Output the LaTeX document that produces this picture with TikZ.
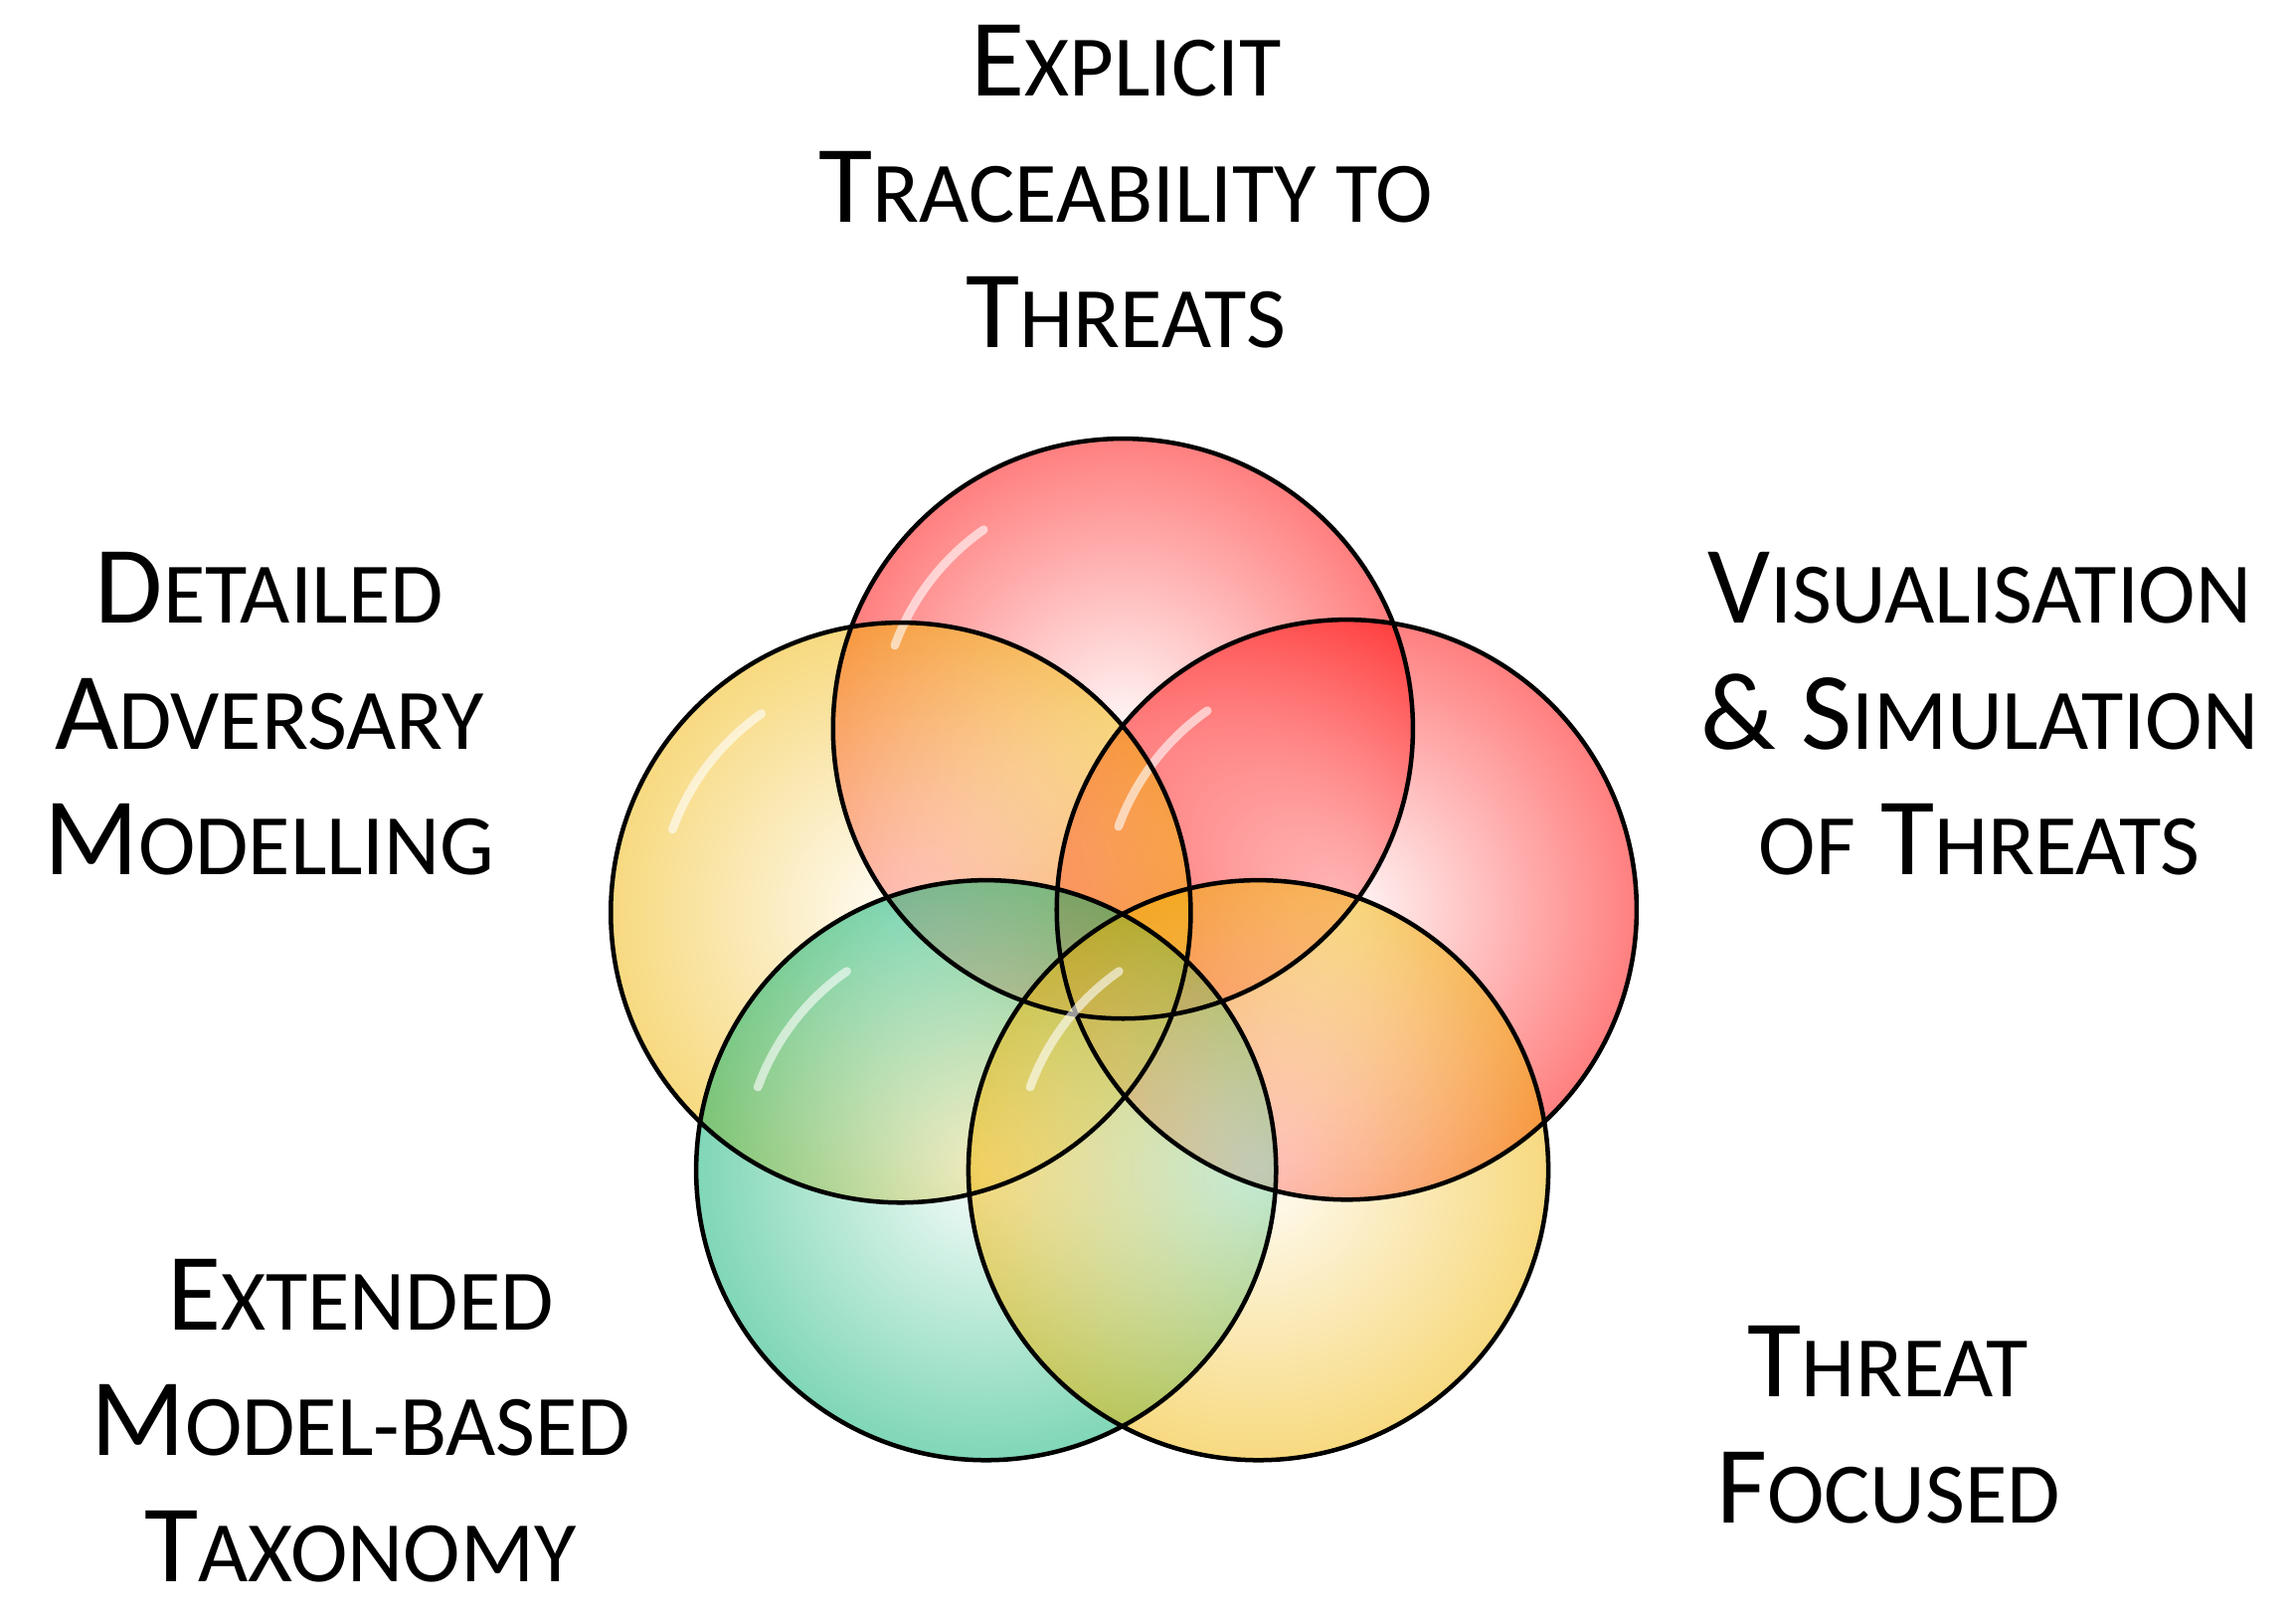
\documentclass[tikz,border=0pt]{standalone}
\usepackage{fontspec}
\setmainfont{Carlito}
\usetikzlibrary{calc}
\definecolor{gold}{RGB}{240,180,0}
\definecolor{emer}{RGB}{0,175,110}
\newcommand\smc[1]{{\fontsize{50}{60}\selectfont #1}}
\begin{document}
\begin{tikzpicture}[x=0.03cm,y=-0.03cm,
  lbl/.style={align=center,font=\fontsize{64}{73}\selectfont,text=black},
  ring/.style={draw=black,line width=2.6pt}]
\useasboundingbox (0,0) rectangle (1560,1100);
\foreach \n/\x/\y/\c in {cT/763/495/red, cR/915/618/red, cL/612/620/gold, cG/670/795/emer, cB/855/795/gold}{
  \shade[inner color=\c!6, outer color=\c, fill opacity=0.5] (\x,\y) circle (197);
  \coordinate (\n) at (\x,\y);
}
\foreach \n in {cT,cR,cL,cG,cB}{
  \draw[ring] (\n) circle (197);
  \draw[white,line width=5pt,opacity=0.6,line cap=round] ($(\n)+(200:165)$) arc (200:235:165);
}
\node[lbl] (t) at (765,127) {E\smc{XPLICIT}\\T\smc{RACEABILITY TO}\\T\smc{HREATS}};
\node[lbl] (l) at (183,485) {D\smc{ETAILED}\\A\smc{DVERSARY}\\M\smc{ODELLING}};
\node[lbl] (r) at (1345,485) {V\smc{ISUALISATION}\\\& S\smc{IMULATION}\\\smc{OF} T\smc{HREATS}};
\node[lbl] (bl) at (245,965) {E\smc{XTENDED}\\M\smc{ODEL-BASED}\\T\smc{AXONOMY}};
\node[lbl] (br) at (1283,968) {T\smc{HREAT}\\F\smc{OCUSED}};
\end{tikzpicture}
\end{document}
